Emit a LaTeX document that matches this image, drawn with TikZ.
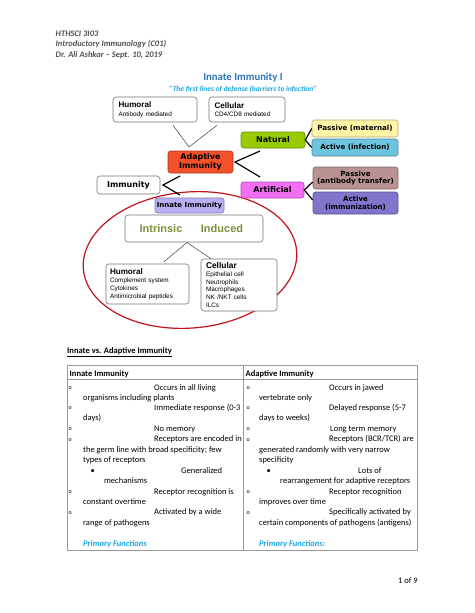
\documentclass[tikz,border=0pt]{standalone}
\usepackage{fontspec}
\setmainfont{Carlito}
\newfontfamily\ls{Liberation Sans}
\newfontfamily\dvb{DejaVu Sans}
\definecolor{cadapt}{HTML}{F4502A}
\definecolor{cnat}{HTML}{99CC00}
\definecolor{cpm}{HTML}{FFF3A6}
\definecolor{cai}{HTML}{6CC4DE}
\definecolor{cart}{HTML}{F46EF4}
\definecolor{cpat}{HTML}{B99393}
\definecolor{caim}{HTML}{7F75CC}
\definecolor{cinn}{HTML}{B8B0F2}
\definecolor{cgreen}{HTML}{77933C}
\definecolor{cred}{HTML}{C0141C}
\definecolor{ctitle}{HTML}{2E75B6}
\definecolor{csub}{HTML}{1AA7E0}
\definecolor{chead}{HTML}{505050}
\definecolor{cline}{HTML}{999999}
\begin{document}
\begin{tikzpicture}[x=1pt,y=-1pt,
  cbox/.style={draw=#1!70!black, fill=#1, rounded corners=2.5pt, line width=0.6pt, inner sep=0pt, align=center, font=\dvb\bfseries\fontsize{7.1}{7.8}\selectfont},
  wbox/.style={draw=black!55, fill=white, rounded corners=3pt, line width=0.6pt, inner sep=0pt},
  small/.style={font=\ls\fontsize{6.4}{8.5}\selectfont, align=left},
  thk/.style={line width=1.2pt, black},
  thn/.style={line width=0.5pt, black!75},
  body/.style={anchor=base west, inner sep=0pt, font=\fontsize{8.5}{10.4}\selectfont},
  bul/.style={anchor=base west, inner sep=0pt, font=\fontsize{6}{7}\selectfont},
  hdr/.style={anchor=base west, inner sep=0pt, text=chead, font=\bfseries\itshape\fontsize{8.5}{10.4}\selectfont},
  pf/.style={anchor=base west, inner sep=0pt, text=csub, font=\bfseries\itshape\fontsize{8.5}{10.4}\selectfont}
]
\useasboundingbox (0,0) rectangle (474,613);
\fill[white] (0,0) rectangle (474,613);

% header
\node[hdr] (h1) at (55.5,36.5) {HTHSCI 3I03};
\node[hdr] (h2) at (55.5,46.8) {Introductory Immunology (C01)};
\node[hdr] (h3) at (55.5,57.1) {Dr. Ali Ashkar -- Sept. 10, 2019};

% titles
\node[anchor=base, inner sep=0pt, text=ctitle, font=\bfseries\fontsize{10.7}{12}\selectfont] (title) at (243,80.5) {Innate Immunity I};
\node[anchor=base, inner sep=0pt, text=csub, font=\bfseries\itshape\fontsize{7.5}{9}\selectfont] (sub) at (243,91.5) {"The first lines of defense (barriers to infection"};

% red ellipse
\draw[cred, line width=1.2pt, rotate around={5:(190,260)}] (190,260) ellipse (107 and 68);

% boxes
\node[wbox, minimum width=84pt, minimum height=25pt, text width=73pt, small] (hum) at (155,109.5)
  {{\bfseries\fontsize{8.1}{8.5}\selectfont Humoral}\\Antibody mediated};
\node[wbox, minimum width=76pt, minimum height=25pt, text width=65pt, small] (cel) at (247,109.5)
  {{\bfseries\fontsize{8.1}{8.5}\selectfont Cellular}\\CD4/CD8 mediated};
\node[cbox=cadapt, minimum width=65pt, minimum height=22pt, font=\dvb\bfseries\fontsize{8}{8.6}\selectfont] (adapt) at (200.5,162) {Adaptive\\Immunity};
\node[cbox=cnat, minimum width=64pt, minimum height=16pt, font=\dvb\bfseries\fontsize{8}{8.6}\selectfont] (nat) at (273,140) {Natural};
\node[cbox=cpm, minimum width=86pt, minimum height=17pt] (pm) at (355,128.5) {Passive (maternal)};
\node[cbox=cai, minimum width=86pt, minimum height=17pt] (ai) at (355,147.5) {Active (infection)};
\node[wbox, minimum width=63pt, minimum height=18pt, font=\dvb\bfseries\fontsize{8}{8.6}\selectfont] (imm) at (128.5,185) {Immunity};
\node[cbox=cart, minimum width=63pt, minimum height=16pt, font=\dvb\bfseries\fontsize{8}{8.6}\selectfont] (art) at (272.5,190) {Artificial};
\node[cbox=cpat, minimum width=85pt, minimum height=22pt] (pat) at (355.5,178) {Passive\\(antibody transfer)};
\node[cbox=caim, minimum width=85pt, minimum height=22pt] (aim) at (355.5,203) {Active\\(immunization)};
\node[cbox=cinn, minimum width=69pt, minimum height=15pt, font=\dvb\bfseries\fontsize{7}{7.6}\selectfont] (inn) at (189.5,205.5) {Innate Immunity};
\node[wbox, minimum width=138pt, minimum height=27pt] (ii) at (194,228.5) {};
\node[inner sep=0pt, text=cgreen, font=\ls\bfseries\fontsize{11}{12}\selectfont] (intr) at (161,229) {Intrinsic};
\node[inner sep=0pt, text=cgreen, font=\ls\bfseries\fontsize{11}{12}\selectfont] (indu) at (222,229) {Induced};
\node[wbox, minimum width=83pt, minimum height=40pt, text width=75pt, small, font=\ls\fontsize{6.4}{8}\selectfont] (hum2) at (147.5,284)
  {{\bfseries\fontsize{8.1}{8}\selectfont Humoral}\\Complement system\\Cytokines\\Antimicrobial peptides};
\node[wbox, minimum width=76pt, minimum height=52pt, text width=66pt, small, font=\ls\fontsize{6.4}{7.8}\selectfont] (cel2) at (239,285)
  {{\bfseries\fontsize{8.4}{7.8}\selectfont Cellular}\\Epithelial cell\\Neutrophils\\Macrophages\\NK /NKT cells\\ILCs};

% connectors
\coordinate (v1) at (189,147);
\draw[thn] ([xshift=18pt,yshift=-3pt]hum.south) -- (v1) -- ([xshift=-30pt,yshift=-3pt]cel.south);
\coordinate (a1) at (235,162);
\coordinate (nE) at (260,151);
\coordinate (aE) at (260,177);
\draw[thk] (nE) -- (a1) -- (aE);
\draw[thk] (pm.west) -- (nat.east) -- (ai.west);
\draw[thk] ([yshift=-4pt]pat.west) -- (art.east) -- ([yshift=3pt]aim.west);
\coordinate (i1) at (163,185);
\coordinate (iU) at (180,176);
\coordinate (iD) at (180,195);
\draw[thk] (iU) -- (i1) -- (iD);
\coordinate (x1) at (187,242.5);
\draw[thn] ([xshift=16.5pt,yshift=2pt]hum2.north) -- (x1) -- ([xshift=-28pt]cel2.north);

% section heading
\node[anchor=base west, inner sep=0pt, font=\bfseries\fontsize{8.5}{10.4}\selectfont] (sec) at (67,353) {\underline{Innate vs. Adaptive Immunity}};

% table
\draw[cline, line width=0.8pt] (67,365) rectangle (417,550);
\draw[cline, line width=0.8pt] (67,379) -- (417,379);
\draw[cline, line width=0.8pt] (243,365) -- (243,550);
\node[anchor=base west, inner sep=0pt, font=\bfseries\fontsize{8.5}{10.4}\selectfont] (th1) at (69.5,376) {Innate Immunity};
\node[anchor=base west, inner sep=0pt, font=\bfseries\fontsize{8.5}{10.4}\selectfont] (th2) at (245.5,376) {Adaptive Immunity};

% left column
\node[bul] (lb1) at (68.5,389.5) {o};
\node[body] (l1) at (154,390) {Occurs in all living};
\node[body] (l2) at (83,400.4) {organisms including plants};
\node[bul] (lb2) at (68.5,409.9) {o};
\node[body] (l3) at (154,410.4) {Immediate response (0-3};
\node[body] (l4) at (83,420.8) {days)};
\node[bul] (lb3) at (68.5,430.7) {o};
\node[body] (l5) at (154,431.2) {No memory};
\node[bul] (lb4) at (68.5,441.1) {o};
\node[body] (l6) at (154,441.6) {Receptors are encoded in};
\node[body] (l7) at (83,452) {the germ line with broad specificity; few};
\node[body] (l8) at (83,462.4) {types of receptors};
\node[body] (lb5) at (90.5,473.2) {\textbullet};
\node[body] (l9) at (181,473.2) {Generalized};
\node[body] (l10) at (104,483.6) {mechanisms};
\node[bul] (lb6) at (68.5,493.5) {o};
\node[body] (l11) at (154,494) {Receptor recognition is};
\node[body] (l12) at (83,504.4) {constant overtime};
\node[bul] (lb7) at (68.5,514.3) {o};
\node[body] (l13) at (154,514.8) {Activated by a wide};
\node[body] (l14) at (83,525.2) {range of pathogens};
\node[pf] (l15) at (83,546) {Primary Functions};

% right column
\node[bul] (rb1) at (246.5,389.5) {o};
\node[body] (r1) at (329,390) {Occurs in jawed};
\node[body] (r2) at (259,400.4) {vertebrate only};
\node[bul] (rb2) at (246.5,409.9) {o};
\node[body] (r3) at (329,410.4) {Delayed response (5-7};
\node[body] (r4) at (259,420.8) {days to weeks)};
\node[bul] (rb3) at (246.5,430.7) {o};
\node[body] (r5) at (330,431.2) {Long term memory};
\node[bul] (rb4) at (246.5,441.1) {o};
\node[body] (r6) at (329,441.6) {Receptors (BCR/TCR) are};
\node[body] (r7) at (259,452) {generated randomly with very narrow};
\node[body] (r8) at (259,462.4) {specificity};
\node[body] (rb5) at (266.5,473.2) {\textbullet};
\node[body] (r9) at (358,473.2) {Lots of};
\node[body] (r10) at (280,483.6) {rearrangement for adaptive receptors};
\node[bul] (rb6) at (246.5,493.5) {o};
\node[body] (r11) at (329,494) {Receptor recognition};
\node[body] (r12) at (259,504.4) {improves over time};
\node[bul] (rb7) at (246.5,514.3) {o};
\node[body] (r13) at (329,514.8) {Specifically activated by};
\node[body] (r14) at (259,525.2) {certain components of pathogens (antigens)};
\node[pf] (r15) at (259,546) {Primary Functions:};

% page number
\node[body] (pg) at (398,583) {1 of 9};
\end{tikzpicture}
\end{document}
